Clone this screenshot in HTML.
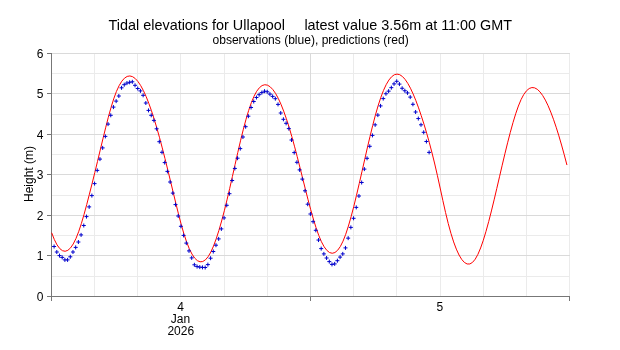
<!DOCTYPE html>
<html><head><meta charset="utf-8"><style>
html,body{margin:0;padding:0;background:#fff;}
svg{display:block;will-change:transform;}
text{font-family:"Liberation Sans",sans-serif;fill:#000000;}
</style></head><body>
<svg width="620" height="350" viewBox="0 0 620 350">
<rect width="620" height="350" fill="#fff"/>
<path d="M94.5 53V296M137.5 53V296M180.5 53V296M224.5 53V296M267.5 53V296M353.5 53V296M396.5 53V296M440.5 53V296M483.5 53V296M526.5 53V296M569.5 53V296M52 73.5H569M52 114.5H569M52 154.5H569M52 195.5H569M52 235.5H569M52 276.5H569" stroke="#ebebeb" stroke-width="1" fill="none" shape-rendering="crispEdges"/>
<path d="M52 53.5H570M52 93.5H570M52 134.5H570M52 174.5H570M52 215.5H570M52 255.5H570M310.5 53V296" stroke="#dadada" stroke-width="1" fill="none" shape-rendering="crispEdges"/>
<path d="M51.5 53V301M46.6 296.5H569.5M310.5 296V301M569.5 296V301M46.6 296.5H51M46.6 255.5H51M46.6 215.5H51M46.6 174.5H51M46.6 134.5H51M46.6 93.5H51M46.6 53.5H51" stroke="#777777" stroke-width="1" fill="none" shape-rendering="crispEdges"/>
<polyline points="51.65,232.73 54.35,239.59 57.05,244.86 59.74,248.55 62.44,250.68 65.14,251.27 67.84,250.34 70.54,247.90 73.23,243.98 75.93,238.60 78.63,231.76 81.33,223.64 84.03,214.48 86.72,204.55 89.42,194.14 92.12,183.45 94.82,172.53 97.51,161.42 100.21,150.14 102.91,138.86 105.61,127.83 108.31,117.32 111.00,107.59 113.70,98.91 116.40,91.55 119.10,85.66 121.80,81.21 124.49,78.15 127.19,76.41 129.89,75.94 132.59,76.68 135.29,78.57 137.98,81.55 140.68,85.56 143.38,90.56 146.08,96.46 148.78,103.23 151.47,110.80 154.17,119.11 156.87,128.11 159.57,137.73 162.26,147.90 164.96,158.49 167.66,169.41 170.36,180.54 173.06,191.76 175.75,202.95 178.45,213.88 181.15,224.22 183.85,233.64 186.55,241.81 189.24,248.61 191.94,254.02 194.64,258.03 197.34,260.63 200.04,261.80 202.73,261.54 205.43,259.84 208.13,256.67 210.83,252.04 213.53,246.03 216.22,238.76 218.92,230.38 221.62,221.01 224.32,210.80 227.01,199.87 229.71,188.36 232.41,176.45 235.11,164.38 237.81,152.42 240.50,140.82 243.20,129.86 245.90,119.74 248.60,110.65 251.30,102.77 253.99,96.28 256.69,91.28 259.39,87.73 262.09,85.56 264.79,84.73 267.48,85.16 270.18,86.80 272.88,89.60 275.58,93.48 278.27,98.39 280.97,104.28 283.67,111.08 286.37,118.73 289.07,127.17 291.76,136.34 294.46,146.17 297.16,156.50 299.86,167.15 302.56,177.95 305.25,188.73 307.95,199.30 310.65,209.46 313.35,219.01 316.05,227.71 318.74,235.36 321.44,241.75 324.14,246.76 326.84,250.37 329.54,252.55 332.23,253.28 334.93,252.54 337.63,250.28 340.33,246.50 343.02,241.15 345.72,234.27 348.42,226.02 351.12,216.62 353.82,206.29 356.51,195.23 359.21,183.67 361.91,171.82 364.61,159.86 367.31,148.01 370.00,136.47 372.70,125.45 375.40,115.14 378.10,105.74 380.80,97.47 383.49,90.42 386.19,84.61 388.89,80.06 391.59,76.78 394.29,74.78 396.98,74.08 399.68,74.66 402.38,76.46 405.08,79.38 407.77,83.34 410.47,88.26 413.17,94.04 415.87,100.60 418.57,107.86 421.26,115.72 423.96,124.14 426.66,133.14 429.36,142.76 432.06,153.04 434.75,164.01 437.45,175.71 440.15,188.03 442.85,200.48 445.55,212.50 448.24,223.56 450.94,233.38 453.64,241.92 456.34,249.14 459.04,255.00 461.73,259.45 464.43,262.46 467.13,263.98 469.83,263.96 472.52,262.38 475.22,259.18 477.92,254.34 480.62,247.96 483.32,240.22 486.01,231.35 488.71,221.53 491.41,210.96 494.11,199.85 496.81,188.40 499.50,176.79 502.20,165.21 504.90,153.82 507.60,142.81 510.30,132.35 512.99,122.61 515.69,113.78 518.39,106.02 521.09,99.53 523.79,94.45 526.48,90.80 529.18,88.52 531.88,87.56 534.58,87.84 537.27,89.29 539.97,91.87 542.67,95.50 545.37,100.12 548.07,105.66 550.76,112.07 553.46,119.27 556.16,127.21 558.86,135.82 561.56,145.04 564.25,154.80 566.95,165.04" stroke="#ff0000" stroke-width="1.0" fill="none" stroke-linejoin="round"/>
<path d="M52.10 246.50H56.10M54.10 244.50V248.50M54.80 252.00H58.80M56.80 250.00V254.00M57.49 255.60H61.49M59.49 253.60V257.60M60.19 257.40H64.19M62.19 255.40V259.40M62.89 259.90H66.89M64.89 257.90V261.90M65.59 259.90H69.59M67.59 257.90V261.90M68.29 256.80H72.29M70.29 254.80V258.80M70.98 252.00H74.98M72.98 250.00V254.00M73.68 247.40H77.68M75.68 245.40V249.40M76.38 242.00H80.38M78.38 240.00V244.00M79.08 234.90H83.08M81.08 232.90V236.90M81.78 225.50H85.78M83.78 223.50V227.50M84.47 216.60H88.47M86.47 214.60V218.60M87.17 206.90H91.17M89.17 204.90V208.90M89.87 195.60H93.87M91.87 193.60V197.60M92.57 183.60H96.57M94.57 181.60V185.60M95.26 170.40H99.26M97.26 168.40V172.40M97.96 159.10H101.96M99.96 157.10V161.10M100.66 147.90H104.66M102.66 145.90V149.90M103.36 136.40H107.36M105.36 134.40V138.40M106.06 124.10H110.06M108.06 122.10V126.10M108.75 115.30H112.75M110.75 113.30V117.30M111.45 107.10H115.45M113.45 105.10V109.10M114.15 101.10H118.15M116.15 99.10V103.10M116.85 96.00H120.85M118.85 94.00V98.00M119.55 87.80H123.55M121.55 85.80V89.80M122.24 84.70H126.24M124.24 82.70V86.70M124.94 83.10H128.94M126.94 81.10V85.10M127.64 82.30H131.64M129.64 80.30V84.30M130.34 81.80H134.34M132.34 79.80V83.80M133.04 85.30H137.04M135.04 83.30V87.30M135.73 88.50H139.73M137.73 86.50V90.50M138.43 90.90H142.43M140.43 88.90V92.90M141.13 95.30H145.13M143.13 93.30V97.30M143.83 103.00H147.83M145.83 101.00V105.00M146.53 110.40H150.53M148.53 108.40V112.40M149.22 115.30H153.22M151.22 113.30V117.30M151.92 120.40H155.92M153.92 118.40V122.40M154.62 128.80H158.62M156.62 126.80V130.80M157.32 141.70H161.32M159.32 139.70V143.70M160.01 152.30H164.01M162.01 150.30V154.30M162.71 162.60H166.71M164.71 160.60V164.60M165.41 171.40H169.41M167.41 169.40V173.40M168.11 182.00H172.11M170.11 180.00V184.00M170.81 193.10H174.81M172.81 191.10V195.10M173.50 204.60H177.50M175.50 202.60V206.60M176.20 216.00H180.20M178.20 214.00V218.00M178.90 226.30H182.90M180.90 224.30V228.30M181.60 235.40H185.60M183.60 233.40V237.40M184.30 243.10H188.30M186.30 241.10V245.10M186.99 250.90H190.99M188.99 248.90V252.90M189.69 257.90H193.69M191.69 255.90V259.90M192.39 264.80H196.39M194.39 262.80V266.80M195.09 266.60H199.09M197.09 264.60V268.60M197.79 267.10H201.79M199.79 265.10V269.10M200.48 267.40H204.48M202.48 265.40V269.40M203.18 267.50H207.18M205.18 265.50V269.50M205.88 264.60H209.88M207.88 262.60V266.60M208.58 258.20H212.58M210.58 256.20V260.20M211.28 251.50H215.28M213.28 249.50V253.50M213.97 245.20H217.97M215.97 243.20V247.20M216.67 238.90H220.67M218.67 236.90V240.90M219.37 228.90H223.37M221.37 226.90V230.90M222.07 217.90H226.07M224.07 215.90V219.90M224.76 205.30H228.76M226.76 203.30V207.30M227.46 193.70H231.46M229.46 191.70V195.70M230.16 180.50H234.16M232.16 178.50V182.50M232.86 168.45H236.86M234.86 166.45V170.45M235.56 158.20H239.56M237.56 156.20V160.20M238.25 148.60H242.25M240.25 146.60V150.60M240.95 137.00H244.95M242.95 135.00V139.00M243.65 126.70H247.65M245.65 124.70V128.70M246.35 116.20H250.35M248.35 114.20V118.20M249.05 107.50H253.05M251.05 105.50V109.50M251.74 101.50H255.74M253.74 99.50V103.50M254.44 97.50H258.44M256.44 95.50V99.50M257.14 94.70H261.14M259.14 92.70V96.70M259.84 92.60H263.84M261.84 90.60V94.60M262.54 91.20H266.54M264.54 89.20V93.20M265.23 91.80H269.23M267.23 89.80V93.80M267.93 94.10H271.93M269.93 92.10V96.10M270.63 96.40H274.63M272.63 94.40V98.40M273.33 98.70H277.33M275.33 96.70V100.70M276.02 104.40H280.02M278.02 102.40V106.40M278.72 113.00H282.72M280.72 111.00V115.00M281.42 119.30H285.42M283.42 117.30V121.30M284.12 123.30H288.12M286.12 121.30V125.30M286.82 128.60H290.82M288.82 126.60V130.60M289.51 140.00H293.51M291.51 138.00V142.00M292.21 152.60H296.21M294.21 150.60V154.60M294.91 162.30H298.91M296.91 160.30V164.30M297.61 169.90H301.61M299.61 167.90V171.90M300.31 179.10H304.31M302.31 177.10V181.10M303.00 190.80H307.00M305.00 188.80V192.80M305.70 204.20H309.70M307.70 202.20V206.20M308.40 214.00H312.40M310.40 212.00V216.00M311.10 221.70H315.10M313.10 219.70V223.70M313.80 230.30H317.80M315.80 228.30V232.30M316.49 240.05H320.49M318.49 238.05V242.05M319.19 248.60H323.19M321.19 246.60V250.60M321.89 253.90H325.89M323.89 251.90V255.90M324.59 258.00H328.59M326.59 256.00V260.00M327.29 261.60H331.29M329.29 259.60V263.60M329.98 264.40H333.98M331.98 262.40V266.40M332.68 263.90H336.68M334.68 261.90V265.90M335.38 260.70H339.38M337.38 258.70V262.70M338.08 257.10H342.08M340.08 255.10V259.10M340.77 253.90H344.77M342.77 251.90V255.90M343.47 247.90H347.47M345.47 245.90V249.90M346.17 238.15H350.17M348.17 236.15V240.15M348.87 227.40H352.87M350.87 225.40V229.40M351.57 218.30H355.57M353.57 216.30V220.30M354.26 207.40H358.26M356.26 205.40V209.40M356.96 196.00H360.96M358.96 194.00V198.00M359.66 182.50H363.66M361.66 180.50V184.50M362.36 169.10H366.36M364.36 167.10V171.10M365.06 158.30H369.06M367.06 156.30V160.30M367.75 146.30H371.75M369.75 144.30V148.30M370.45 135.40H374.45M372.45 133.40V137.40M373.15 124.85H377.15M375.15 122.85V126.85M375.85 115.10H379.85M377.85 113.10V117.10M378.55 105.90H382.55M380.55 103.90V107.90M381.24 98.60H385.24M383.24 96.60V100.60M383.94 93.75H387.94M385.94 91.75V95.75M386.64 91.15H390.64M388.64 89.15V93.15M389.34 87.65H393.34M391.34 85.65V89.65M392.04 83.90H396.04M394.04 81.90V85.90M394.73 81.30H398.73M396.73 79.30V83.30M397.43 84.10H401.43M399.43 82.10V86.10M400.13 88.25H404.13M402.13 86.25V90.25M402.83 90.75H406.83M404.83 88.75V92.75M405.52 92.90H409.52M407.52 90.90V94.90M408.22 97.10H412.22M410.22 95.10V99.10M410.92 104.30H414.92M412.92 102.30V106.30M413.62 112.00H417.62M415.62 110.00V114.00M416.32 118.55H420.32M418.32 116.55V120.55M419.01 124.80H423.01M421.01 122.80V126.80M421.71 132.30H425.71M423.71 130.30V134.30M424.41 141.50H428.41M426.41 139.50V143.50M427.11 152.40H431.11M429.11 150.40V154.40" stroke="#0000cc" stroke-width="1.0" fill="none"/>
<g font-size="14.4">
<text x="108.6" y="30.1">Tidal elevations for Ullapool</text>
<text x="304.4" y="30.1">latest value 3.56m at 11:00 GMT</text>
</g>
<text x="212.5" y="43.6" font-size="12.05">observations (blue), predictions (red)</text>
<g font-size="12">
<text x="43.5" y="300.8" text-anchor="end">0</text><text x="43.5" y="259.8" text-anchor="end">1</text><text x="43.5" y="219.8" text-anchor="end">2</text><text x="43.5" y="178.8" text-anchor="end">3</text><text x="43.5" y="138.8" text-anchor="end">4</text><text x="43.5" y="97.8" text-anchor="end">5</text><text x="43.5" y="57.8" text-anchor="end">6</text>
<text x="180.7" y="310.6" text-anchor="middle">4</text>
<text x="180.5" y="322.5" text-anchor="middle">Jan</text>
<text x="180.8" y="334.6" text-anchor="middle">2026</text>
<text x="439.8" y="311" text-anchor="middle">5</text>
<text transform="translate(33,174) rotate(-90)" text-anchor="middle">Height (m)</text>
</g>
</svg>
</body></html>
